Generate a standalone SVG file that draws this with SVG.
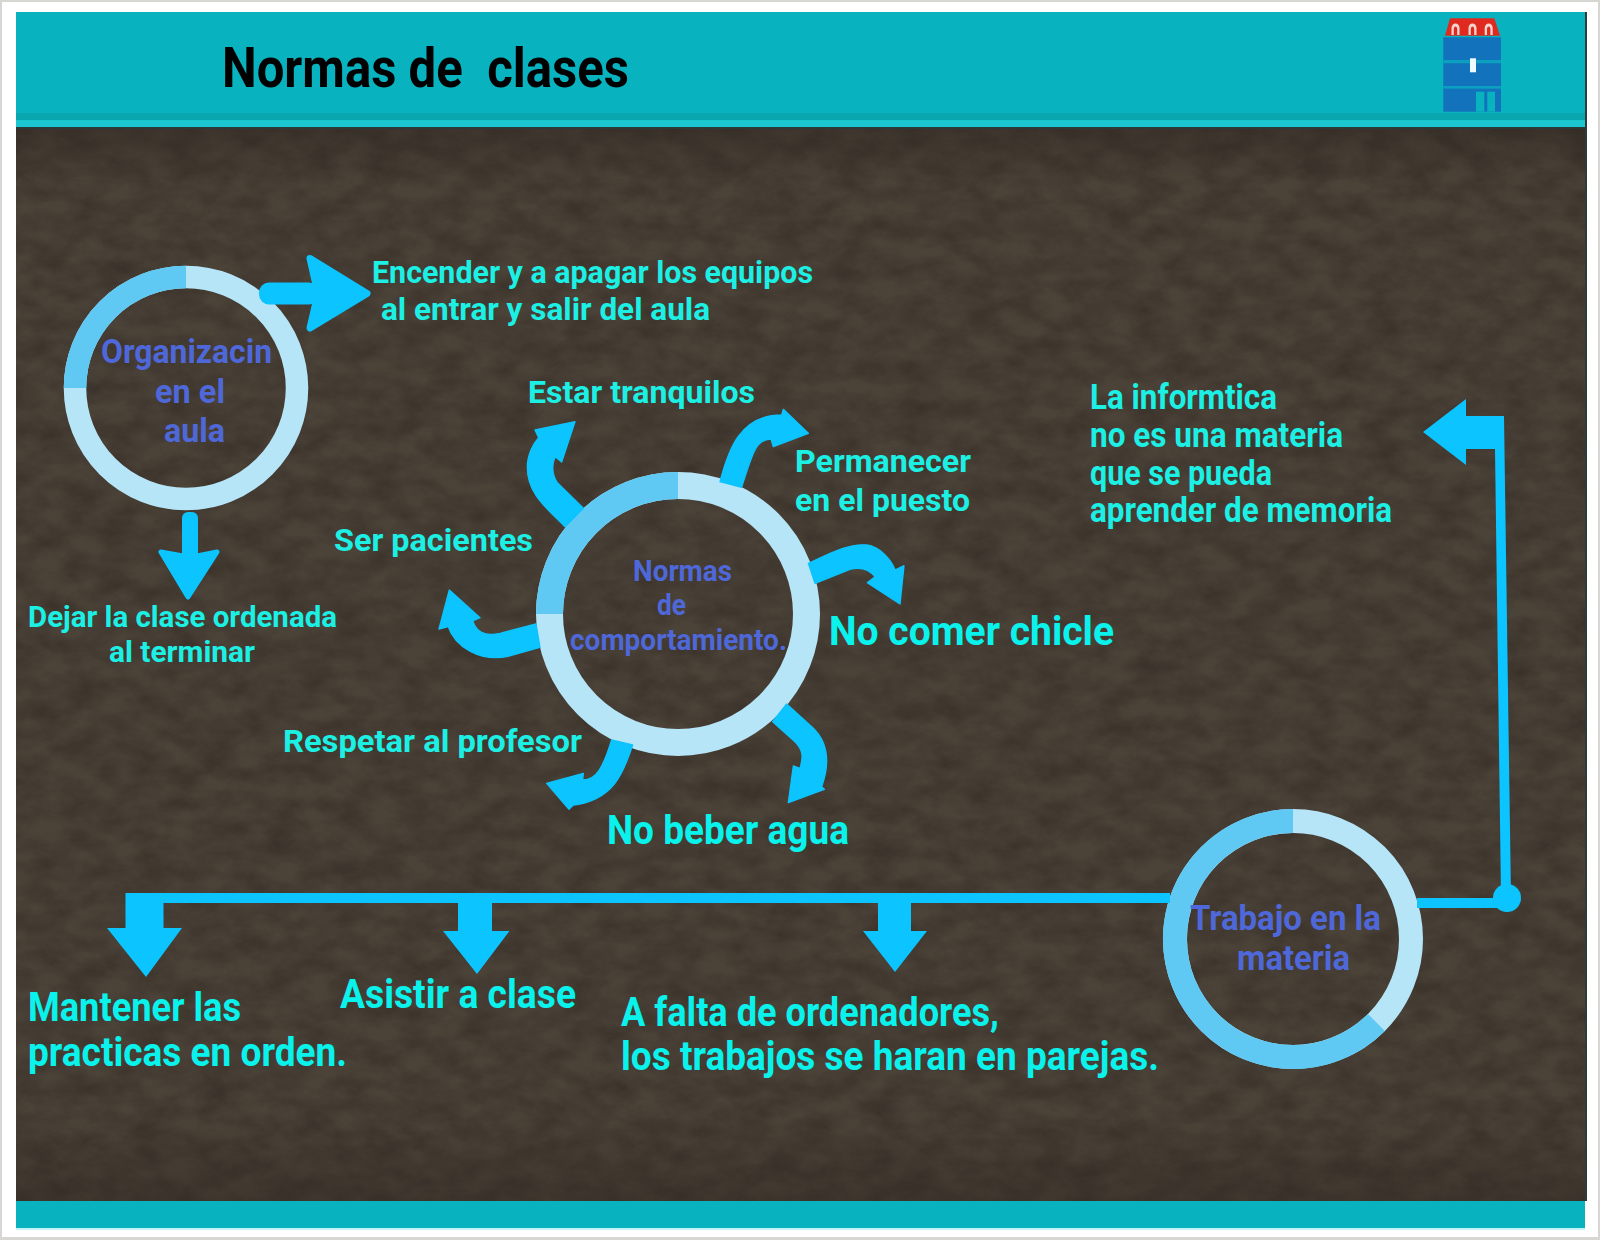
<svg xmlns="http://www.w3.org/2000/svg" width="1600" height="1240" viewBox="0 0 1600 1240">
<defs>
<filter id="grain" x="0" y="0" width="100%" height="100%" color-interpolation-filters="sRGB">
<feTurbulence type="fractalNoise" baseFrequency="0.03 0.05" numOctaves="5" seed="7"/>
<feColorMatrix type="matrix" values="0 0 0 0 0.16  0 0 0 0 0.13  0 0 0 0 0.11  0.75 0 0 0 -0.2"/>
</filter>
<linearGradient id="vig" x1="0" y1="0" x2="0" y2="1">
<stop offset="0" stop-color="#2a231d" stop-opacity=".4"/>
<stop offset=".05" stop-color="#2a231d" stop-opacity="0"/>
<stop offset=".92" stop-color="#2a231d" stop-opacity="0"/>
<stop offset="1" stop-color="#2a231d" stop-opacity=".35"/>
</linearGradient>
</defs>
<style>
text{font-family:Roboto,"Liberation Sans",sans-serif;white-space:pre}
.t{fill:#1cf0e4;font-weight:700}
.s{font-size:32px}
.m{font-size:35px}
.l{font-size:41px}
.b{fill:#0af2ec;font-weight:700}
.n{fill:#4f68d9;font-weight:700;font-size:33px}
.ring{fill:none;stroke:#b6e5f8}
.arc{fill:none;stroke:#5fc9f4}
.a{fill:#0cc4ff}
.ar{fill:#0cc4ff;stroke:#0cc4ff;stroke-linejoin:round}
.c{fill:#0cc4ff;stroke:#0cc4ff;stroke-width:4;stroke-linejoin:round}
.bar{fill:#08b3bf}
</style>
<g id="frame">
<rect width="1600" height="1240" fill="#d8d6d2"/>
<rect x="2" y="2" width="1596" height="1235" fill="#ffffff"/>
<rect x="16" y="129" width="1569" height="1072" fill="#4b4238"/>
<rect x="16" y="129" width="1569" height="1072" filter="url(#grain)"/>
<rect x="16" y="129" width="1569" height="1072" fill="url(#vig)"/>
<rect class="bar" x="16" y="12" width="1569" height="101"/>
<rect x="16" y="113" width="1569" height="7" fill="#0aa6b0"/>
<rect x="16" y="120" width="1569" height="7" fill="#1cc6d0"/>
<rect x="16" y="127" width="1569" height="2" fill="#2b3a38"/>
<rect class="bar" x="16" y="1201" width="1569" height="27"/>
<rect x="16" y="1228" width="1569" height="2" fill="#c4f4f6"/>
<rect x="1585" y="12" width="2" height="1189" fill="#2f3a3a"/>
<text x="222" y="87" fill="#000" font-size="55" font-weight="700" textLength="407" lengthAdjust="spacingAndGlyphs">Normas de  clases</text>
</g>
<g id="icon">
<path d="M1450 18.300L1494.300 18.300L1500 35.700L1445 35.700Z" fill="#e02a20"/>
<path d="M1451.500 35V28a4 4.500 0 0 1 8 0v7ZM1468.500 35V28a4 4.500 0 0 1 8 0v7ZM1484.700 35V28a4 4.500 0 0 1 8 0v7Z" fill="#f4d4cc"/>
<path d="M1453.800 35V29a1.700 2.500 0 0 1 3.400 0v6ZM1470.800 35V29a1.700 2.500 0 0 1 3.400 0v6ZM1487 35V29a1.700 2.500 0 0 1 3.400 0v6Z" fill="#e02a20"/>
<rect x="1443.300" y="37.300" width="57.700" height="74.400" fill="#1272bb"/>
<rect x="1443.300" y="60" width="57.700" height="3.300" fill="#0b9fc0"/>
<rect x="1443.300" y="86" width="57.700" height="2.700" fill="#0b9fc0"/>
<rect x="1470" y="58.300" width="6" height="14" fill="#eefcff"/>
<rect x="1476" y="91.700" width="8.300" height="20" class="bar"/>
<rect x="1487.300" y="91.700" width="7.700" height="20" class="bar"/>
</g>
<g id="node-organizacion">
<circle class="ring" cx="186" cy="388" r="111" stroke-width="22.500"/>
<path class="arc" d="M186 277A111 111 0 0 0 75 388" stroke-width="22.500"/>
<text class="n" x="101" y="363" textLength="171" lengthAdjust="spacingAndGlyphs">Organizacin</text>
<text class="n" x="155" y="403" textLength="70" lengthAdjust="spacingAndGlyphs">en el</text>
<text class="n" x="164" y="442" textLength="61" lengthAdjust="spacingAndGlyphs">aula</text>
</g>
<g id="node-comportamiento">
<circle class="ring" cx="678" cy="614" r="128.500" stroke-width="27"/>
<path class="arc" d="M678 485.500A128.500 128.500 0 0 0 549.500 614" stroke-width="27"/>
<text class="n" x="633" y="581" style="font-size:30px" textLength="99" lengthAdjust="spacingAndGlyphs">Normas</text>
<text class="n" x="657" y="615" style="font-size:30px" textLength="29" lengthAdjust="spacingAndGlyphs">de</text>
<text class="n" x="570" y="650" style="font-size:30px" textLength="217" lengthAdjust="spacingAndGlyphs">comportamiento.</text>
</g>
<g id="node-trabajo">
<circle class="ring" cx="1293" cy="939" r="118" stroke-width="24"/>
<path class="arc" d="M1293 821A118 118 0 1 0 1376.400 1022.400" stroke-width="24"/>
<text class="n" x="1190" y="930" style="font-size:35px" textLength="191" lengthAdjust="spacingAndGlyphs">Trabajo en la</text>
<text class="n" x="1237" y="970" style="font-size:35px" textLength="113" lengthAdjust="spacingAndGlyphs">materia</text>
</g>
<g id="connectors">
<rect class="a" x="259" y="282.500" width="60" height="22" rx="10"/>
<polygon class="ar" stroke-width="7" points="310,258.500 367,293.500 310,328 316,302 316,285"/>
<rect class="a" x="182" y="512" width="16" height="50" rx="6"/>
<polygon class="ar" stroke-width="5" points="161,552 183,556 197,556 217,552 188,597"/>
<g transform="translate(420 400) scale(.33333)">
<path class="c" d="M435 380C375 320 322 280 322 200C322 165 340 130 356 113L345 90L465 65L425 186L406 170C395 190 395 225 412 248L490 325Z"/>
<path class="c" d="M900 245C925 150 960 45 1085 45L1090 28L1165 100L1060 140L1053 117C1010 118 1000 150 965 262Z"/>
<path class="c" d="M1165 490C1240 455 1290 430 1340 435C1380 440 1415 480 1425 510L1452 497L1440 612L1342 548L1365 530C1345 505 1320 500 1290 508L1185 550Z"/>
<path class="c" d="M1100 912L1180 985C1225 1030 1230 1090 1205 1160L1213 1168L1105 1208L1120 1098L1140 1105C1150 1070 1150 1050 1125 1025L1058 965Z"/>
<path class="c" d="M638 1035C610 1120 580 1200 460 1215L447 1228L380 1150L490 1120L488 1140C530 1140 550 1100 575 1020Z"/>
<path class="c" d="M360 742L260 770C180 785 105 740 85 680L57 687L88 570L180 653L158 663C170 695 190 710 240 700L348 672Z"/>
</g>
<polygon class="a" points="125.500,893 1170,893 1170,903 163.500,903 163.500,928 182,928 146,977 107,928 125.500,928"/>
<polygon class="a" points="458,900 492,900 492,931 509.500,931 477,974 443,931 458,931"/>
<polygon class="a" points="878,900 911,900 911,931 927,931 895,972 863,931 878,931"/>
<polygon class="a" points="1423,432 1466,399 1466,416 1504,416 1511,898 1501,898 1495,449 1466,449 1466,465"/>
<rect class="a" x="1417" y="898" width="90" height="10"/>
<circle class="a" cx="1507" cy="898" r="14"/>
</g>
<g id="labels">
<text class="t s" x="372" y="283" textLength="441" lengthAdjust="spacingAndGlyphs">Encender y a apagar los equipos</text>
<text class="t s" x="381" y="320" textLength="329" lengthAdjust="spacingAndGlyphs">al entrar y salir del aula</text>
<text class="t s" x="528" y="403" textLength="227" lengthAdjust="spacingAndGlyphs">Estar tranquilos</text>
<text class="t s" x="795" y="472" textLength="176" lengthAdjust="spacingAndGlyphs">Permanecer</text>
<text class="t s" x="795" y="511" textLength="175" lengthAdjust="spacingAndGlyphs">en el puesto</text>
<text class="t s" x="334" y="551" textLength="199" lengthAdjust="spacingAndGlyphs">Ser pacientes</text>
<text class="b l" x="829" y="645" textLength="285" lengthAdjust="spacingAndGlyphs">No comer chicle</text>
<text class="t s" x="283" y="752" textLength="299" lengthAdjust="spacingAndGlyphs">Respetar al profesor</text>
<text class="b l" x="607" y="844" textLength="242" lengthAdjust="spacingAndGlyphs">No beber agua</text>
<text class="t s" style="font-size:30px" x="28" y="627" textLength="309" lengthAdjust="spacingAndGlyphs">Dejar la clase ordenada</text>
<text class="t s" style="font-size:30px" x="109" y="662" textLength="146" lengthAdjust="spacingAndGlyphs">al terminar</text>
<text class="t m" x="1090" y="409" textLength="187" lengthAdjust="spacingAndGlyphs">La informtica</text>
<text class="t m" x="1090" y="447" textLength="253" lengthAdjust="spacingAndGlyphs">no es una materia</text>
<text class="t m" x="1090" y="485" textLength="182" lengthAdjust="spacingAndGlyphs">que se pueda</text>
<text class="t m" x="1090" y="522" textLength="302" lengthAdjust="spacingAndGlyphs">aprender de memoria</text>
<text class="b l" x="28" y="1021" textLength="213" lengthAdjust="spacingAndGlyphs">Mantener las</text>
<text class="b l" x="28" y="1066" textLength="319" lengthAdjust="spacingAndGlyphs">practicas en orden.</text>
<text class="b l" x="340" y="1008" textLength="236" lengthAdjust="spacingAndGlyphs">Asistir a clase</text>
<text class="b l" x="621" y="1026" textLength="378" lengthAdjust="spacingAndGlyphs">A falta de ordenadores,</text>
<text class="b l" x="621" y="1070" textLength="538" lengthAdjust="spacingAndGlyphs">los trabajos se haran en parejas.</text>
</g>
</svg>
